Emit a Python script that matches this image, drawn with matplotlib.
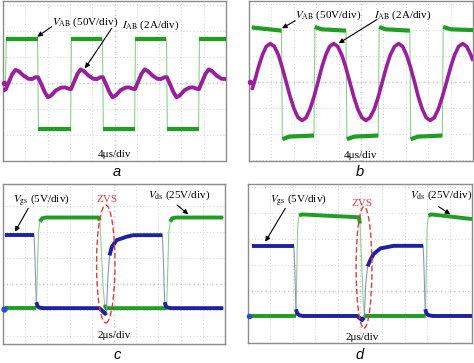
import numpy as np
import matplotlib
matplotlib.use('Agg')
import matplotlib.pyplot as plt
from matplotlib.patches import Ellipse

plt.rcParams['font.family'] = ['Liberation Serif', 'DejaVu Serif']
plt.rcParams['mathtext.fontset'] = 'stix'

# ---------------- data (time in divisions, amplitude in divisions) ----------------
# panel a : V_AB (green) and I_AB (purple)
a_vab_x = [0.10, 0.15, 1.55, 1.59, 3.03, 3.07, 4.46, 4.50, 5.90, 5.94, 7.33, 7.37, 8.77, 8.81, 10.0]
a_vab_y = [-0.30, 1.69, 1.69, -1.77, -1.77, 1.69, 1.69, -1.77, -1.77, 1.69, 1.69, -1.77, -1.77, 1.69, 1.69]

a_iab_x = [0.00, 0.13, 0.27, 0.42, 0.56, 0.71, 0.92, 1.14, 1.31, 1.45, 1.57,
           1.72, 1.87, 2.01, 2.16, 2.38, 2.61, 2.78, 2.93, 3.05,
           3.19, 3.34, 3.48, 3.62, 3.84, 4.05, 4.22, 4.37, 4.48,
           4.62, 4.77, 4.91, 5.06, 5.27, 5.49, 5.66, 5.80, 5.92,
           6.06, 6.21, 6.35, 6.49, 6.71, 6.92, 7.09, 7.24, 7.35,
           7.49, 7.64, 7.78, 7.93, 8.14, 8.36, 8.53, 8.67, 8.79,
           8.93, 9.08, 9.22, 9.37, 9.58, 9.80, 10.0]
a_iab_y = [-0.30, -0.24, 0.05, 0.35, 0.50, 0.45, 0.28, 0.16, 0.15, 0.22, 0.22,
           -0.05, -0.35, -0.55, -0.48, -0.28, -0.18, -0.17, -0.22, -0.24,
           0.05, 0.35, 0.52, 0.46, 0.28, 0.16, 0.15, 0.22, 0.22,
           -0.05, -0.35, -0.55, -0.48, -0.28, -0.18, -0.17, -0.22, -0.24,
           0.05, 0.35, 0.52, 0.46, 0.28, 0.16, 0.15, 0.22, 0.22,
           -0.05, -0.35, -0.55, -0.48, -0.28, -0.18, -0.17, -0.22, -0.24,
           0.05, 0.35, 0.52, 0.46, 0.28, 0.16, 0.15]

# panel b : V_AB (green) and I_AB (purple, sinusoidal)
b_vab_x = [0.13, 1.45, 1.49, 1.80, 2.90, 2.94, 3.25, 4.33, 4.37, 4.70, 5.77, 5.81, 6.10,
           7.18, 7.22, 7.55, 8.63, 8.67, 9.00, 10.0]
b_vab_y = [2.10, 1.98, -2.20, -2.10, -2.06, 2.12, 2.03, 1.98, -2.20, -2.10, -2.06, 2.12, 2.03,
           1.98, -2.20, -2.10, -2.06, 2.12, 2.03, 2.00]

b_iab_x = [0.13, 0.24, 0.42, 0.60, 0.77, 0.95, 1.13, 1.31, 1.48, 1.66, 1.84, 2.02, 2.19, 2.37,
           2.55, 2.72, 2.90, 3.08, 3.25, 3.43, 3.60, 3.78, 3.96, 4.14, 4.32, 4.50, 4.68, 4.86,
           5.04, 5.22, 5.40, 5.59, 5.77, 5.95, 6.13, 6.31, 6.50, 6.68, 6.86, 7.03, 7.21, 7.39,
           7.56, 7.74, 7.91, 8.09, 8.27, 8.45, 8.63, 8.82, 9.00, 9.18, 9.36, 9.54, 9.72, 9.90, 10.0]
b_iab_y = [-0.30, 0.00, 0.57, 1.05, 1.37, 1.48, 1.37, 1.05, 0.57, 0.00, -0.57, -1.05, -1.37, -1.48,
           -1.37, -1.05, -0.57, 0.00, 0.57, 1.05, 1.37, 1.48, 1.37, 1.05, 0.57, 0.00, -0.57, -1.05,
           -1.37, -1.48, -1.37, -1.05, -0.57, 0.00, 0.57, 1.05, 1.37, 1.48, 1.37, 1.05, 0.57, 0.00,
           -0.57, -1.05, -1.37, -1.48, -1.37, -1.05, -0.57, 0.00, 0.57, 1.05, 1.37, 1.48, 1.37, 1.05, 0.82]

# panel c : V_gs (blue) and V_ds (green)
c_vgs_x = [0.09, 1.40, 1.44, 1.50, 1.56, 1.64, 1.80, 4.34, 4.50, 4.60, 4.66, 4.72, 4.80, 4.90,
           5.12, 5.57, 5.87, 7.18, 7.22, 7.28, 7.34, 7.42, 7.58, 9.92]
c_vgs_y = [1.88, 1.88, 1.00, -0.70, -0.86, -0.91, -0.93, -0.93, -1.05, -1.15, -1.10, 0.20, 1.10, 1.43,
           1.69, 1.82, 1.88, 1.88, 1.00, -0.70, -0.86, -0.91, -0.93, -0.93]
c_vds_x = [0.09, 1.50, 1.55, 1.60, 1.66, 1.76, 1.95, 4.30, 4.36, 4.42, 4.50, 4.58, 4.64,
           7.37, 7.42, 7.47, 7.53, 7.62, 7.80, 9.92]
c_vds_y = [-0.93, -0.93, 0.50, 2.00, 2.40, 2.53, 2.56, 2.56, 2.45, 1.50, 0.00, -0.80, -0.93,
           -0.93, 0.50, 2.00, 2.40, 2.53, 2.56, 2.56]

# panel d : V_gs (blue) and V_ds (green)
d_vgs_x = [0.18, 2.05, 2.09, 2.14, 2.20, 2.30, 2.45, 4.87, 5.00, 5.09, 5.19, 5.26, 5.34, 5.46,
           5.60, 5.91, 6.50, 7.82, 7.86, 7.91, 7.97, 8.07, 8.25, 10.0]
d_vgs_y = [1.74, 1.74, 0.80, -0.70, -0.87, -0.93, -0.96, -0.96, -1.05, -1.12, -1.02, 0.30, 0.95, 1.19,
           1.42, 1.64, 1.74, 1.74, 0.80, -0.70, -0.87, -0.93, -0.96, -0.96]
d_vds_x = [0.10, 2.14, 2.18, 2.22, 2.28, 2.40, 3.50, 4.95, 5.00, 5.08, 5.15, 5.20, 5.25,
           7.92, 7.96, 8.00, 8.06, 8.18, 9.00, 10.0]
d_vds_y = [-0.96, -0.96, 0.80, 2.50, 2.90, 2.95, 2.90, 2.84, 2.60, 1.00, -0.50, -0.90, -0.96,
           -0.96, 0.80, 2.50, 2.90, 2.95, 2.87, 2.77]

panel_letters = ['a', 'b', 'c', 'd']
time_scales = ['4μs/div', '4μs/div', '2μs/div', '2μs/div']

# ---------------- styling ----------------
W, H = 474, 363
GREEN = '#1e9e22'
GREEN_THIN = '#8fd08f'
PURPLE = '#9a1f9c'
BLUE = '#1c22a0'
BLUE_THIN = '#8d92c8'
RED = '#e0393b'
GRID = '#c2c2c2'

fig = plt.figure(figsize=(W / 100, H / 100), dpi=100)
fig.patch.set_facecolor('white')


def fx(px):
    return px / W


def fy(py):
    return 1 - py / H


def make_axes(left, top, right, bottom, ylim):
    ax = fig.add_axes([fx(left), fy(bottom), fx(right - left), (bottom - top) / H])
    ax.set_xlim(0, 10)
    ax.set_ylim(*ylim)
    ax.set_xticks([])
    ax.set_yticks([])
    for s in ax.spines.values():
        s.set_color('#8c8c8c')
        s.set_linewidth(1.0)
    # dotted scope graticule
    for gx in range(1, 10):
        ax.axvline(gx, color=GRID, lw=0.6, ls=(0, (1, 3)), zorder=1)
    for gy in range(int(np.ceil(ylim[0])), int(np.floor(ylim[1])) + 1):
        ax.axhline(gy, color=GRID, lw=0.6, ls=(0, (1, 3)), zorder=1)
    # minor ticks on the center axes
    tx = np.arange(0.2, 10, 0.2)
    ax.plot(tx, np.zeros_like(tx), ls='none', marker='|', ms=1.8, mew=0.5, color=GRID, zorder=1)
    ty = np.arange(np.ceil(ylim[0] * 5) / 5, ylim[1], 0.2)
    ax.plot(np.full_like(ty, 5.0), ty, ls='none', marker='_', ms=1.8, mew=0.5, color=GRID, zorder=1)
    return ax


def draw_trace(ax, xs, ys, color, thin_color, lw_thick, lw_thin=0.8, thresh=6.0, z=3):
    xs = np.asarray(xs, float)
    ys = np.asarray(ys, float)
    ax.plot(xs, ys, color=thin_color, lw=lw_thin, zorder=z, solid_joinstyle='round')
    dx = np.diff(xs)
    dy = np.diff(ys)
    with np.errstate(divide='ignore', invalid='ignore'):
        slope = np.abs(dy / dx)
    steep = ~(slope < thresh)
    runs, cur = [], None
    for i in range(len(dx)):
        if not steep[i]:
            if cur is None:
                cur = [i]
            cur.append(i + 1)
        else:
            if cur:
                runs.append(cur)
            cur = None
    if cur:
        runs.append(cur)
    for r in runs:
        ax.plot(xs[r], ys[r], color=color, lw=lw_thick, solid_capstyle='butt',
                solid_joinstyle='round', zorder=z + 0.1)


def label(px, py, s, size=8, ha='left', color='black', **kw):
    fig.text(fx(px), fy(py), s, fontsize=size, ha=ha, va='center', color=color, **kw)


def arrow(x0, y0, x1, y1):
    fig.add_artist(matplotlib.patches.FancyArrowPatch(
        (fx(x0), fy(y0)), (fx(x1), fy(y1)), transform=fig.transFigure,
        arrowstyle='-|>', mutation_scale=7, color='black', lw=0.8, shrinkA=0, shrinkB=0))


# ---------------- panel a ----------------
ax_a = make_axes(3, 1, 226, 161, (-3.0, 3.15))
draw_trace(ax_a, a_vab_x, a_vab_y, GREEN, GREEN_THIN, 3.0)
draw_trace(ax_a, a_iab_x, a_iab_y, PURPLE, PURPLE, 2.8, z=4)
ax_a.plot([0.05], [0.0], marker='o', ms=3, color=PURPLE, zorder=5, clip_on=False)

# ---------------- panel b ----------------
ax_b = make_axes(249, 1, 473, 161, (-3.04, 3.12))
draw_trace(ax_b, b_vab_x, b_vab_y, GREEN, GREEN_THIN, 3.0)
draw_trace(ax_b, b_iab_x, b_iab_y, PURPLE, PURPLE, 2.6, z=4)
ax_b.plot([0.05], [0.0], marker='o', ms=3, color=PURPLE, zorder=5, clip_on=False)

# ---------------- panel c ----------------
ax_c = make_axes(3, 184, 225, 344, (-2.31, 3.85))
draw_trace(ax_c, c_vds_x, c_vds_y, GREEN, GREEN_THIN, 2.8)
draw_trace(ax_c, c_vgs_x, c_vgs_y, BLUE, BLUE_THIN, 2.8, z=4)
ax_c.plot([0.03], [-0.97], marker='o', ms=3.5, color='#2a4cd0', zorder=5, clip_on=False)
ax_c.add_patch(Ellipse((4.63, 0.77), 0.83, 4.54, fill=False, ec=RED, lw=1.0, ls=(0, (4, 2)), zorder=6))

# ---------------- panel d ----------------
ax_d = make_axes(248, 184, 472, 343, (-2.0, 4.12))
draw_trace(ax_d, d_vds_x, d_vds_y, GREEN, GREEN_THIN, 2.8)
draw_trace(ax_d, d_vgs_x, d_vgs_y, BLUE, BLUE_THIN, 2.8, z=4)
ax_d.plot([0.03], [-0.96], marker='o', ms=3, color='#2a4cd0', zorder=5, clip_on=False)
ax_d.add_patch(Ellipse((5.18, 0.91), 0.71, 4.68, fill=False, ec=RED, lw=1.0, ls=(0, (4, 2)), zorder=6))

# ---------------- annotations ----------------
label(52, 22, r'$V_{\mathrm{AB}}$ (50V/div)')
arrow(51.7, 26.7, 37.3, 36.7)
label(122, 25, r'$I_{\mathrm{AB}}$ (2A/div)')
arrow(111.7, 28.3, 85, 68.3)
label(114, 154, time_scales[0], ha='center')

label(295, 15, r'$V_{\mathrm{AB}}$ (50V/div)')
arrow(295.3, 20.7, 282, 28.3)
label(374, 15, r'$I_{\mathrm{AB}}$ (2A/div)')
arrow(377, 19.5, 338.7, 43.3)
label(360, 155, time_scales[1], ha='center')

label(13, 200, r'$V_{\mathrm{gs}}$ (5V/div)')
arrow(28.3, 208.3, 15, 231.7)
label(148, 195, r'$V_{\mathrm{ds}}$ (25V/div)')
arrow(177, 205, 188.3, 214.3)
label(107, 200, 'ZVS', ha='center', color=RED)
label(114, 335, time_scales[2], ha='center')

label(270, 200, r'$V_{\mathrm{gs}}$ (5V/div)')
arrow(285.3, 208.3, 265.3, 241.7)
label(410, 195, r'$V_{\mathrm{ds}}$ (25V/div)')
arrow(438.7, 206.7, 450.3, 214.3)
label(362, 203, 'ZVS', ha='center', color=RED)
label(362, 337, time_scales[3], ha='center')

for (px, py), letter in zip([(117, 172), (360, 172), (117, 355), (360, 355)], panel_letters):
    fig.text(fx(px), fy(py), letter, fontsize=10.5, ha='center', va='center',
             family='Liberation Sans', style='italic')

fig.savefig('out.png', dpi=100, facecolor='white')
